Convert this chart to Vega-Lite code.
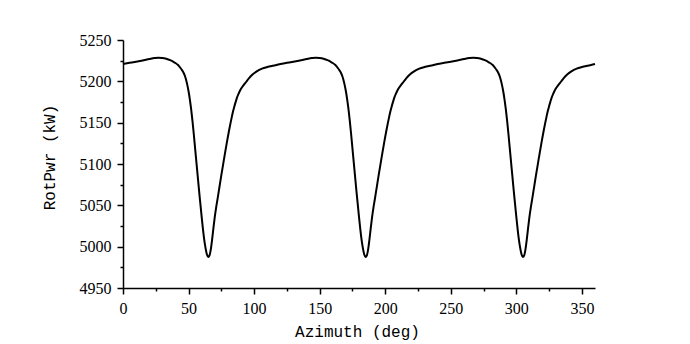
{
  "$schema": "https://vega.github.io/schema/vega-lite/v6.json",
  "autosize": {"type": "none"},
  "padding": {"left": 123, "top": 40, "right": 95, "bottom": 56},
  "width": 472,
  "height": 248,
  "background": "white",
  "config": {"view": {"stroke": null}},
  "data": {"values": [
    {"az": 0, "p": 5221.0}, {"az": 5, "p": 5222.4}, {"az": 10, "p": 5223.8}, {"az": 15, "p": 5225.3}, {"az": 20, "p": 5226.9}, {"az": 24, "p": 5228.1}, {"az": 27, "p": 5228.6}, {"az": 30, "p": 5228.3}, {"az": 33, "p": 5227.3}, {"az": 36, "p": 5225.6}, {"az": 38, "p": 5224.0}, {"az": 40, "p": 5222.2}, {"az": 42, "p": 5219.7}, {"az": 44, "p": 5215.8}, {"az": 45, "p": 5213.5}, {"az": 46, "p": 5211.0}, {"az": 47, "p": 5207.5}, {"az": 48, "p": 5202.5}, {"az": 49, "p": 5196}, {"az": 50, "p": 5188}, {"az": 51, "p": 5178}, {"az": 52, "p": 5166}, {"az": 53, "p": 5152}, {"az": 54, "p": 5136}, {"az": 55, "p": 5119}, {"az": 56, "p": 5102}, {"az": 57, "p": 5085}, {"az": 58, "p": 5068}, {"az": 59, "p": 5052}, {"az": 60, "p": 5036}, {"az": 61, "p": 5021}, {"az": 62, "p": 5008}, {"az": 63, "p": 4998}, {"az": 64, "p": 4990.5}, {"az": 65, "p": 4987.5}, {"az": 66, "p": 4989.5}, {"az": 67, "p": 4997}, {"az": 68, "p": 5009}, {"az": 69, "p": 5023}, {"az": 70, "p": 5036}, {"az": 71, "p": 5047}, {"az": 72, "p": 5056.5}, {"az": 73, "p": 5066.5}, {"az": 74, "p": 5076.5}, {"az": 75, "p": 5086.5}, {"az": 76, "p": 5096}, {"az": 77, "p": 5105.5}, {"az": 78, "p": 5115}, {"az": 79, "p": 5124}, {"az": 80, "p": 5133}, {"az": 81, "p": 5141.5}, {"az": 82, "p": 5149.5}, {"az": 83, "p": 5157}, {"az": 84, "p": 5164}, {"az": 85, "p": 5170}, {"az": 86, "p": 5175.5}, {"az": 87, "p": 5180.5}, {"az": 88, "p": 5184.5}, {"az": 89, "p": 5188}, {"az": 90, "p": 5191}, {"az": 92, "p": 5195.5}, {"az": 94, "p": 5199.5}, {"az": 96, "p": 5203.5}, {"az": 99, "p": 5208.5}, {"az": 102, "p": 5212}, {"az": 106, "p": 5215.3}, {"az": 110, "p": 5217.3}, {"az": 114, "p": 5218.8}, {"az": 117, "p": 5219.8},
    {"az": 120, "p": 5221.0}, {"az": 125, "p": 5222.4}, {"az": 130, "p": 5223.8}, {"az": 135, "p": 5225.3}, {"az": 140, "p": 5226.9}, {"az": 144, "p": 5228.1}, {"az": 147, "p": 5228.6}, {"az": 150, "p": 5228.3}, {"az": 153, "p": 5227.3}, {"az": 156, "p": 5225.6}, {"az": 158, "p": 5224.0}, {"az": 160, "p": 5222.2}, {"az": 162, "p": 5219.7}, {"az": 164, "p": 5215.8}, {"az": 165, "p": 5213.5}, {"az": 166, "p": 5211.0}, {"az": 167, "p": 5207.5}, {"az": 168, "p": 5202.5}, {"az": 169, "p": 5196}, {"az": 170, "p": 5188}, {"az": 171, "p": 5178}, {"az": 172, "p": 5166}, {"az": 173, "p": 5152}, {"az": 174, "p": 5136}, {"az": 175, "p": 5119}, {"az": 176, "p": 5102}, {"az": 177, "p": 5085}, {"az": 178, "p": 5068}, {"az": 179, "p": 5052}, {"az": 180, "p": 5036}, {"az": 181, "p": 5021}, {"az": 182, "p": 5008}, {"az": 183, "p": 4998}, {"az": 184, "p": 4990.5}, {"az": 185, "p": 4987.5}, {"az": 186, "p": 4989.5}, {"az": 187, "p": 4997}, {"az": 188, "p": 5009}, {"az": 189, "p": 5023}, {"az": 190, "p": 5036}, {"az": 191, "p": 5047}, {"az": 192, "p": 5056.5}, {"az": 193, "p": 5066.5}, {"az": 194, "p": 5076.5}, {"az": 195, "p": 5086.5}, {"az": 196, "p": 5096}, {"az": 197, "p": 5105.5}, {"az": 198, "p": 5115}, {"az": 199, "p": 5124}, {"az": 200, "p": 5133}, {"az": 201, "p": 5141.5}, {"az": 202, "p": 5149.5}, {"az": 203, "p": 5157}, {"az": 204, "p": 5164}, {"az": 205, "p": 5170}, {"az": 206, "p": 5175.5}, {"az": 207, "p": 5180.5}, {"az": 208, "p": 5184.5}, {"az": 209, "p": 5188}, {"az": 210, "p": 5191}, {"az": 212, "p": 5195.5}, {"az": 214, "p": 5199.5}, {"az": 216, "p": 5203.5}, {"az": 219, "p": 5208.5}, {"az": 222, "p": 5212}, {"az": 226, "p": 5215.3}, {"az": 230, "p": 5217.3}, {"az": 234, "p": 5218.8}, {"az": 237, "p": 5219.8},
    {"az": 240, "p": 5221.0}, {"az": 245, "p": 5222.4}, {"az": 250, "p": 5223.8}, {"az": 255, "p": 5225.3}, {"az": 260, "p": 5226.9}, {"az": 264, "p": 5228.1}, {"az": 267, "p": 5228.6}, {"az": 270, "p": 5228.3}, {"az": 273, "p": 5227.3}, {"az": 276, "p": 5225.6}, {"az": 278, "p": 5224.0}, {"az": 280, "p": 5222.2}, {"az": 282, "p": 5219.7}, {"az": 284, "p": 5215.8}, {"az": 285, "p": 5213.5}, {"az": 286, "p": 5211.0}, {"az": 287, "p": 5207.5}, {"az": 288, "p": 5202.5}, {"az": 289, "p": 5196}, {"az": 290, "p": 5188}, {"az": 291, "p": 5178}, {"az": 292, "p": 5166}, {"az": 293, "p": 5152}, {"az": 294, "p": 5136}, {"az": 295, "p": 5119}, {"az": 296, "p": 5102}, {"az": 297, "p": 5085}, {"az": 298, "p": 5068}, {"az": 299, "p": 5052}, {"az": 300, "p": 5036}, {"az": 301, "p": 5021}, {"az": 302, "p": 5008}, {"az": 303, "p": 4998}, {"az": 304, "p": 4990.5}, {"az": 305, "p": 4987.5}, {"az": 306, "p": 4989.5}, {"az": 307, "p": 4997}, {"az": 308, "p": 5009}, {"az": 309, "p": 5023}, {"az": 310, "p": 5036}, {"az": 311, "p": 5047}, {"az": 312, "p": 5056.5}, {"az": 313, "p": 5066.5}, {"az": 314, "p": 5076.5}, {"az": 315, "p": 5086.5}, {"az": 316, "p": 5096}, {"az": 317, "p": 5105.5}, {"az": 318, "p": 5115}, {"az": 319, "p": 5124}, {"az": 320, "p": 5133}, {"az": 321, "p": 5141.5}, {"az": 322, "p": 5149.5}, {"az": 323, "p": 5157}, {"az": 324, "p": 5164}, {"az": 325, "p": 5170}, {"az": 326, "p": 5175.5}, {"az": 327, "p": 5180.5}, {"az": 328, "p": 5184.5}, {"az": 329, "p": 5188}, {"az": 330, "p": 5191}, {"az": 332, "p": 5195.5}, {"az": 334, "p": 5199.5}, {"az": 336, "p": 5203.5}, {"az": 339, "p": 5208.5}, {"az": 342, "p": 5212}, {"az": 346, "p": 5215.3}, {"az": 350, "p": 5217.3}, {"az": 354, "p": 5218.8}, {"az": 357, "p": 5219.8}, {"az": 360, "p": 5221.0}
  ]},
  "mark": {"type": "line", "color": "black", "strokeWidth": 2, "interpolate": "monotone"},
  "encoding": {
    "x": {
      "field": "az", "type": "quantitative",
      "scale": {"domain": [0, 360], "nice": false, "zero": false},
      "axis": {
        "title": "Azimuth (deg)",
        "values": [0, 25, 50, 75, 100, 125, 150, 175, 200, 225, 250, 275, 300, 325, 350],
        "labelExpr": "datum.value % 50 === 0 ? datum.label : ''",
        "grid": false,
        "domainColor": "black", "domainWidth": 1.5,
        "tickColor": "black", "tickWidth": 1.5,
        "tickSize": {"condition": {"test": "datum.value % 50 === 0", "value": 6}, "value": 3},
        "labelFont": "Liberation Serif", "labelFontSize": 16, "labelColor": "black", "labelPadding": 6,
        "labelFlush": false, "labelOverlap": false,
        "titleFont": "Liberation Mono", "titleFontSize": 16, "titleFontWeight": "normal", "titleColor": "black", "titlePadding": 7,
        "titleX": 234
      }
    },
    "y": {
      "field": "p", "type": "quantitative",
      "scale": {"domain": [4950, 5250], "nice": false, "zero": false},
      "axis": {
        "title": "RotPwr (kW)",
        "values": [4950, 4975, 5000, 5025, 5050, 5075, 5100, 5125, 5150, 5175, 5200, 5225, 5250],
        "labelExpr": "datum.value % 50 === 0 ? datum.label : ''",
        "format": "d",
        "grid": false,
        "domainColor": "black", "domainWidth": 1.5,
        "tickColor": "black", "tickWidth": 1.5,
        "tickSize": {"condition": {"test": "datum.value % 50 === 0", "value": 6}, "value": 3},
        "labelFont": "Liberation Serif", "labelFontSize": 16, "labelColor": "black", "labelPadding": 6,
        "labelFlush": false, "labelOverlap": false,
        "titleFont": "Liberation Mono", "titleFontSize": 16, "titleFontWeight": "normal", "titleColor": "black", "titlePadding": 22,
        "titleY": 117
      }
    }
  }
}
